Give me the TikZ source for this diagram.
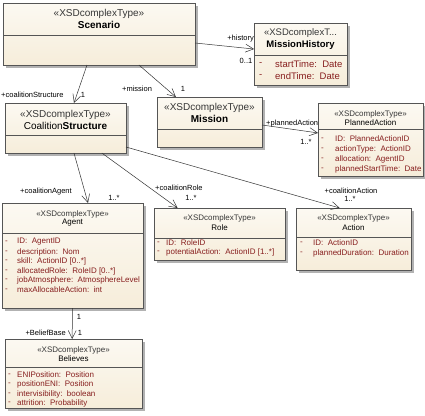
\documentclass[tikz,border=0pt]{standalone}
\usepackage{fontspec}
\setmainfont{Liberation Sans}
\usetikzlibrary{arrows.meta,shadows,calc}
\definecolor{boxfill}{RGB}{246,237,218}
\definecolor{boxtop}{RGB}{252,249,242}
\definecolor{boxline}{RGB}{85,85,85}
\definecolor{attrc}{RGB}{135,30,30}
\definecolor{stereoc}{RGB}{55,55,55}
\begin{document}
\begin{tikzpicture}[x=1pt,y=-1pt,
  cls/.style={draw=boxline, line width=0.7pt, top color=boxtop, bottom color=boxfill,
    drop shadow={shadow xshift=2.5pt,shadow yshift=-2.5pt,fill=black!60,opacity=0.5},
    anchor=north west, inner sep=0pt, outer sep=0pt},
  divl/.style={draw=boxline, line width=0.6pt},
  sterbig/.style={inner sep=0pt, text=stereoc, font=\fontsize{10}{11}\selectfont},
  namebig/.style={inner sep=0pt, text=black, font=\fontsize{10}{11}\selectfont\bfseries},
  stersm/.style={inner sep=0pt, text=stereoc, font=\fontsize{8}{9}\selectfont},
  namesm/.style={inner sep=0pt, text=black, font=\fontsize{8}{9}\selectfont},
  attrbig/.style={inner sep=0pt, anchor=west, text=attrc, font=\fontsize{9.5}{10}\selectfont},
  attrsm/.style={inner sep=0pt, anchor=west, text=attrc, font=\fontsize{8}{9}\selectfont},
  lbl/.style={inner sep=0pt, text=black, font=\fontsize{7.5}{8}\selectfont},
  assoc/.style={draw=black!80, line width=0.5pt, -{Straight Barb[length=8pt,width=8pt,line width=0.5pt]}}
]
\fill[white] (0,0) rectangle (425,415);
\useasboundingbox (0,0) rectangle (425,415);

% Scenario
\node[cls, minimum width=192pt, minimum height=62pt] (scen) at (3,3) {};
\draw[divl] (3,35) -- (195,35);
\node[sterbig] (scenS) at (99,14) {«XSDcomplexType»};
\node[namebig] (scenN) at (99,25) {Scenario};

% MissionHistory
\node[cls, minimum width=93pt, minimum height=62pt] (mh) at (254,23) {};
\draw[divl] (254,55) -- (347,55);
\node[sterbig, font=\fontsize{9.5}{10}\selectfont] (mhS) at (300.5,33) {«XSDcomplexT...};
\node[namebig, font=\fontsize{9.5}{10}\selectfont\bfseries] (mhN) at (300.5,45) {MissionHistory};
\node[attrbig] (mhd1) at (259,64) {-};
\node[attrbig] (mha1) at (275,64) {startTime:\ \ Date};
\node[attrbig] (mhd2) at (259,76) {-};
\node[attrbig] (mha2) at (275,76) {endTime:\ \ Date};

% CoalitionStructure
\node[cls, minimum width=121pt, minimum height=50pt] (cs) at (5,103) {};
\draw[divl] (5,135) -- (126,135);
\node[sterbig] (csS) at (65.5,115) {«XSDcomplexType»};
\node[namebig, font=\fontsize{10}{11}\selectfont] (csN) at (65.5,126) {Coalition\textbf{Structure}};

% Mission
\node[cls, minimum width=105pt, minimum height=50pt] (mis) at (157,97) {};
\draw[divl] (157,129) -- (262,129);
\node[sterbig] (misS) at (209.5,108) {«XSDcomplexType»};
\node[namebig] (misN) at (209.5,119) {Mission};

% PlannedAction
\node[cls, minimum width=105pt, minimum height=73pt] (pa) at (318,103) {};
\draw[divl] (318,129) -- (423,129);
\node[stersm] (paS) at (370.5,114) {«XSDcomplexType»};
\node[namesm] (paN) at (370.5,123) {PlannedAction};
\node[attrsm] (pad1) at (321,139) {-};
\node[attrsm] (paa1) at (335,139) {ID:\ \ PlannedActionID};
\node[attrsm] (pad2) at (321,149.5) {-};
\node[attrsm] (paa2) at (335,149.5) {actionType:\ \ ActionID};
\node[attrsm] (pad3) at (321,159.5) {-};
\node[attrsm] (paa3) at (335,159.5) {allocation:\ \ AgentID};
\node[attrsm] (pad4) at (321,169.5) {-};
\node[attrsm] (paa4) at (335,169.5) {plannedStartTime:\ \ Date};

% Agent
\node[cls, minimum width=141pt, minimum height=105pt] (ag) at (2,203) {};
\draw[divl] (2,233) -- (143,233);
\node[stersm] (agS) at (72.5,214) {«XSDcomplexType»};
\node[namesm] (agN) at (72.5,223) {Agent};
\node[attrsm] (agd1) at (5,242) {-};
\node[attrsm] (aga1) at (17,242) {ID:\ \ AgentID};
\node[attrsm] (agd2) at (5,252) {-};
\node[attrsm] (aga2) at (17,252) {description:\ \ Nom};
\node[attrsm] (agd3) at (5,261.5) {-};
\node[attrsm] (aga3) at (17,261.5) {skill:\ \ ActionID [0..*]};
\node[attrsm] (agd4) at (5,271) {-};
\node[attrsm] (aga4) at (17,271) {allocatedRole:\ \ RoleID [0..*]};
\node[attrsm] (agd5) at (5,280.5) {-};
\node[attrsm] (aga5) at (17,280.5) {jobAtmosphere:\ \ AtmosphereLevel};
\node[attrsm] (agd6) at (5,290) {-};
\node[attrsm] (aga6) at (17,290) {maxAllocableAction:\ \ int};

% Role
\node[cls, minimum width=131pt, minimum height=52pt] (role) at (154,208) {};
\draw[divl] (154,238) -- (285,238);
\node[stersm] (roleS) at (219.5,218) {«XSDcomplexType»};
\node[namesm] (roleN) at (219.5,228) {Role};
\node[attrsm] (rod1) at (157,243) {-};
\node[attrsm] (roa1) at (166,243) {ID:\ \ RoleID};
\node[attrsm] (rod2) at (157,252.5) {-};
\node[attrsm] (roa2) at (166,252.5) {potentialAction:\ \ ActionID [1..*]};

% Action
\node[cls, minimum width=115pt, minimum height=62pt] (act) at (296,208) {};
\draw[divl] (296,237) -- (411,237);
\node[stersm] (actS) at (353.5,218) {«XSDcomplexType»};
\node[namesm] (actN) at (353.5,228) {Action};
\node[attrsm] (acd1) at (300,243) {-};
\node[attrsm] (aca1) at (313,243) {ID:\ \ ActionID};
\node[attrsm] (acd2) at (300,253) {-};
\node[attrsm] (aca2) at (313,253) {plannedDuration:\ \ Duration};

% Believes
\node[cls, minimum width=137pt, minimum height=69pt] (bel) at (5,339) {};
\draw[divl] (5,367) -- (142,367);
\node[stersm] (belS) at (73.5,350) {«XSDcomplexType»};
\node[namesm] (belN) at (73.5,359) {Believes};
\node[attrsm] (bed1) at (8,375) {-};
\node[attrsm] (bea1) at (17,375) {ENIPosition:\ \ Position};
\node[attrsm] (bed2) at (8,384.5) {-};
\node[attrsm] (bea2) at (17,384.5) {positionENI:\ \ Position};
\node[attrsm] (bed3) at (8,394) {-};
\node[attrsm] (bea3) at (17,394) {intervisibility:\ \ boolean};
\node[attrsm] (bed4) at (8,403.5) {-};
\node[attrsm] (bea4) at (17,403.5) {attrition:\ \ Probability};

% Connectors
\draw[assoc] ($(scen.south west)!0.4375!(scen.south east)$) -- ($(cs.north west)!0.57!(cs.north east)$);
\draw[assoc] ($(scen.south west)!0.708!(scen.south east)$) -- ($(mis.north west)!0.18!(mis.north east)$);
\draw[assoc] ($(scen.north east)!0.645!(scen.south east)$) -- ($(mh.north west)!0.42!(mh.south west)$);
\draw[assoc] ($(mis.north east)!0.56!(mis.south east)$) -- ($(pa.north west)!0.41!(pa.south west)$);
\draw[assoc] ($(cs.south west)!0.57!(cs.south east)$) -- ($(ag.north west)!0.61!(ag.north east)$);
\draw[assoc] ($(cs.south west)!0.80!(cs.south east)$) -- ($(role.north west)!0.18!(role.north east)$);
\draw[assoc] ($(cs.north east)!0.88!(cs.south east)$) -- ($(act.north west)!0.38!(act.north east)$);
\draw[assoc] ($(ag.south west)!0.5!(ag.south east)$) -- ($(bel.north west)!0.49!(bel.north east)$);

% Connector labels
\node[lbl, anchor=west] (l1) at (1,95) {+coalitionStructure};
\node[lbl] (l1m) at (83,95) {1};
\node[lbl, anchor=west] (l2) at (122,89) {+mission};
\node[lbl] (l2m) at (183,89) {1};
\node[lbl, anchor=east] (l3) at (254,39) {+history};
\node[lbl] (l3m) at (246,61) {0..1};
\node[lbl, anchor=west] (l4) at (266,124) {+plannedAction};
\node[lbl] (l4m) at (306,142) {1..*};
\node[lbl, anchor=west] (l5) at (20,192) {+coalitionAgent};
\node[lbl] (l5m) at (114,198) {1..*};
\node[lbl, anchor=west] (l6) at (155,188) {+coalitionRole};
\node[lbl] (l6m) at (191,198) {1..*};
\node[lbl] (l7) at (351,191) {+coalitionAction};
\node[lbl] (l7m) at (350,199) {1..*};
\node[lbl] (l8m) at (79,317) {1};
\node[lbl, anchor=east] (l8) at (66,333) {+BeliefBase};
\node[lbl] (l8n) at (80,333) {1};
\end{tikzpicture}
\end{document}
